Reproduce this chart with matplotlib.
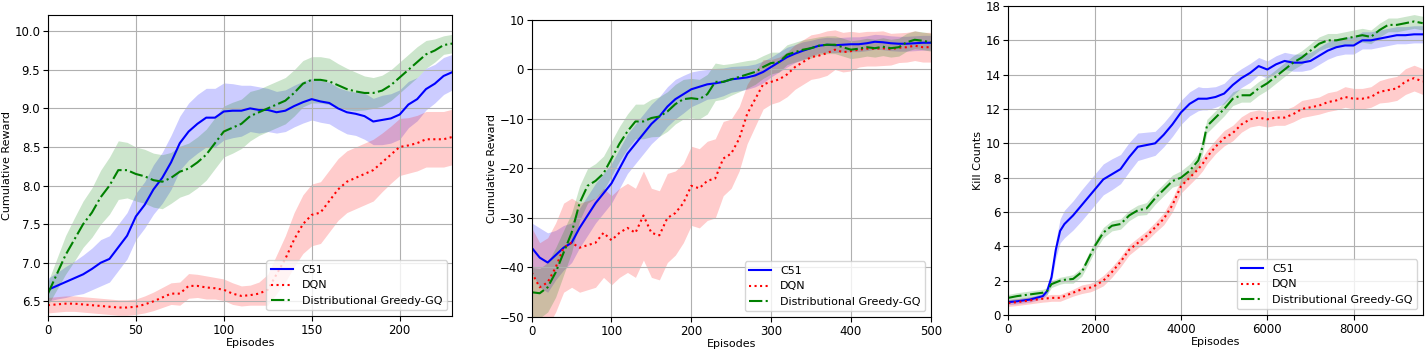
import numpy as np
import matplotlib
matplotlib.use("Agg")
import matplotlib.pyplot as plt

# ---------------- Panel 1 ----------------
p1_x = list(range(0, 231, 5))
p1_c51 = [6.65, 6.7, 6.75, 6.8, 6.85, 6.92, 7.0, 7.05, 7.2, 7.35, 7.6, 7.75, 7.95, 8.1, 8.3, 8.55,
          8.7, 8.8, 8.88, 8.88, 8.96, 8.97, 8.97, 9.0, 8.98, 8.98, 8.95, 8.97, 9.03, 9.08, 9.12,
          9.09, 9.07, 9.0, 8.95, 8.93, 8.9, 8.83, 8.85, 8.87, 8.92, 9.05, 9.12, 9.25, 9.32, 9.42, 9.47]
p1_c51_hw = [0.15, 0.17, 0.2, 0.22, 0.25, 0.27, 0.3, 0.3, 0.3, 0.3, 0.3, 0.3, 0.32, 0.33, 0.35, 0.35,
             0.37, 0.38, 0.38, 0.38, 0.37, 0.35, 0.33, 0.3, 0.3, 0.28, 0.27, 0.27, 0.27, 0.27, 0.27,
             0.27, 0.27, 0.27, 0.28, 0.28, 0.3, 0.3, 0.32, 0.32, 0.32, 0.3, 0.28, 0.27, 0.25, 0.24, 0.23]
p1_dqn = [6.45, 6.46, 6.47, 6.47, 6.46, 6.45, 6.44, 6.43, 6.42, 6.42, 6.43, 6.46, 6.5, 6.55, 6.6, 6.6,
          6.7, 6.7, 6.68, 6.67, 6.65, 6.6, 6.57, 6.58, 6.6, 6.65, 6.85, 7.05, 7.3, 7.5, 7.62,
          7.65, 7.8, 7.95, 8.05, 8.1, 8.15, 8.2, 8.3, 8.4, 8.5, 8.52, 8.55, 8.6, 8.6, 8.6, 8.63]
p1_dqn_hw = [0.1, 0.1, 0.1, 0.1, 0.1, 0.1, 0.1, 0.1, 0.1, 0.1, 0.1, 0.11, 0.12, 0.13, 0.14, 0.15,
             0.16, 0.15, 0.15, 0.14, 0.14, 0.14, 0.13, 0.13, 0.15, 0.2, 0.25, 0.3, 0.35, 0.38, 0.4,
             0.4, 0.4, 0.4, 0.4, 0.4, 0.4, 0.4, 0.38, 0.37, 0.37, 0.36, 0.36, 0.36, 0.36, 0.36, 0.36]
p1_gq = [6.6, 6.85, 7.1, 7.3, 7.5, 7.65, 7.85, 8.0, 8.2, 8.2, 8.15, 8.12, 8.07, 8.05, 8.1, 8.18,
         8.22, 8.3, 8.4, 8.55, 8.7, 8.75, 8.8, 8.9, 8.95, 9.0, 9.05, 9.1, 9.2, 9.32, 9.37,
         9.37, 9.35, 9.3, 9.25, 9.22, 9.2, 9.2, 9.23, 9.3, 9.4, 9.5, 9.6, 9.7, 9.75, 9.82, 9.84]
p1_gq_hw = [0.15, 0.2, 0.25, 0.28, 0.3, 0.32, 0.35, 0.37, 0.38, 0.36, 0.35, 0.35, 0.35, 0.35, 0.33, 0.33,
            0.33, 0.33, 0.33, 0.33, 0.33, 0.33, 0.32, 0.32, 0.3, 0.3, 0.3, 0.3, 0.3, 0.3, 0.3,
            0.3, 0.3, 0.28, 0.27, 0.25, 0.22, 0.2, 0.2, 0.2, 0.2, 0.2, 0.2, 0.18, 0.15, 0.12, 0.12]

# ---------------- Panel 2 ----------------
p2_x = list(range(0, 501, 10))
p2_c51 = [-36, -38, -39, -37.5, -36, -35, -32, -29.5, -27, -25, -23, -20, -17, -15, -13, -11,
          -9.5, -7.5, -6, -5, -4, -3.5, -3, -2.8, -2.5, -2, -1.8, -1.6, -1.2, -0.5, 0.5,
          1.5, 2.5, 3.2, 3.8, 4.3, 4.8, 5, 4.9, 5, 5.1, 5.1, 5.3, 5.6, 5.5, 5.3, 5.2, 5.2, 5.3, 5.4, 5.4]
p2_c51_hw = [5, 6, 6, 5, 4.5, 4, 4, 4, 4, 4, 4, 4, 4, 4, 4, 4,
             4, 4, 4, 3.8, 3.5, 3.3, 3, 3, 2.8, 2.6, 2.5, 2.4, 2.3, 2.2, 2,
             2, 2, 1.8, 1.8, 1.6, 1.5, 1.5, 1.5, 1.5, 1.5, 1.5, 1.5, 1.5, 1.5, 1.5, 1.5, 1.5, 1.5, 1.5, 1.5]
p2_dqn = [-41, -44, -43, -40, -36, -35, -36, -35.5, -35, -33, -34.5, -33, -32, -33, -29.5, -33,
          -33.5, -30, -29, -27, -23.5, -24, -22.5, -22, -18, -17, -14, -9, -6, -3, -2.5,
          -2, -1, 0.5, 1.5, 2.5, 2.8, 3.3, 4, 3.5, 3.7, 4, 4.2, 4.2, 4.3, 4.1, 4.4, 4.5, 4.8, 4.5, 4.5]
p2_dqn_hw = [9, 9, 9, 9, 9, 9, 9, 9, 9, 9, 9, 9, 9, 9, 9, 9,
             9, 9, 8.5, 8, 8, 8, 8, 8, 7.5, 7, 6.5, 6, 5.5, 5, 4.5,
             4.5, 4.5, 4.5, 4.5, 4.5, 4.5, 4.5, 4, 4, 4, 3.5, 3.5, 3.5, 3.5, 3.2, 3, 3, 3, 3, 3]
p2_gq = [-45, -45.2, -44, -41, -37, -33, -27, -23.5, -22.5, -21, -18, -15, -12.5, -10.5, -10.5, -9.8,
         -9.5, -8.5, -7, -6, -5.8, -6, -5, -2.5, -2.5, -2, -1.5, -1, -0.5, 0.5, 1.3,
         1.5, 3, 3.5, 4, 4.3, 4.8, 5, 5, 4.5, 4, 4.2, 4.5, 4.3, 4.6, 4.3, 4.5, 5.5, 6, 5.8, 5.5]
p2_gq_hw = [5, 5, 5, 5, 4.5, 4, 3.5, 3.5, 3.5, 3.5, 3.5, 3.5, 3.5, 3.5, 3.5, 3.8,
            4, 4, 4, 4, 4, 4, 4, 3.8, 3.5, 3.2, 3, 2.8, 2.5, 2.3, 2.2,
            2, 2, 2, 2, 2, 1.8, 1.8, 1.8, 1.8, 1.8, 1.8, 1.8, 1.8, 1.8, 1.8, 1.8, 1.8, 1.8, 1.8, 1.8]

# ---------------- Panel 3 ----------------
p3_x = [0, 200, 500, 800, 900, 1000, 1100, 1200, 1300, 1500, 1700, 1900, 2000, 2200, 2400, 2600,
        2800, 3000, 3200, 3400, 3600, 3800, 4000, 4200, 4400, 4500, 4600, 4800, 5000, 5200, 5400,
        5600, 5800, 6000, 6200, 6400, 6600, 6800, 7000, 7200, 7400, 7600, 7800, 8000, 8200, 8400,
        8600, 8800, 9000, 9200, 9400, 9600]
p3_c51 = [0.75, 0.8, 0.9, 1.1, 1.4, 2.2, 3.8, 4.9, 5.3, 5.8, 6.4, 7.0, 7.3, 7.9, 8.2, 8.5,
          9.2, 9.8, 9.9, 10.0, 10.5, 11.1, 11.8, 12.3, 12.6, 12.6, 12.6, 12.7, 12.9, 13.4, 13.8,
          14.1, 14.5, 14.3, 14.6, 14.8, 14.7, 14.7, 14.8, 15.1, 15.4, 15.6, 15.7, 15.7, 16.0, 16.0,
          16.1, 16.2, 16.3, 16.3, 16.35, 16.35]
p3_c51_hw = [0.15, 0.15, 0.15, 0.15, 0.2, 0.3, 0.5, 0.7, 0.8, 0.85, 0.9, 0.9, 0.9, 0.9, 0.9, 0.85,
             0.85, 0.8, 0.75, 0.7, 0.7, 0.7, 0.7, 0.7, 0.7, 0.65, 0.65, 0.6, 0.6, 0.6, 0.55,
             0.55, 0.5, 0.5, 0.5, 0.5, 0.5, 0.5, 0.5, 0.5, 0.5, 0.5, 0.5, 0.5, 0.5, 0.5,
             0.5, 0.5, 0.5, 0.5, 0.5, 0.5]
p3_dqn = [0.7, 0.75, 0.85, 0.95, 0.97, 1.0, 1.0, 1.0, 1.1, 1.3, 1.5, 1.6, 1.7, 2.0, 2.5, 3.1,
          3.8, 4.2, 4.6, 5.1, 5.6, 6.4, 7.5, 8.0, 8.5, 8.8, 9.2, 9.8, 10.3, 10.6, 11.1,
          11.4, 11.5, 11.4, 11.5, 11.5, 11.7, 12.0, 12.1, 12.2, 12.4, 12.5, 12.7, 12.6, 12.6, 12.7,
          13.0, 13.1, 13.2, 13.6, 13.8, 13.6]
p3_dqn_hw = [0.2, 0.2, 0.2, 0.2, 0.2, 0.2, 0.2, 0.2, 0.2, 0.2, 0.25, 0.25, 0.25, 0.3, 0.3, 0.3,
             0.3, 0.3, 0.3, 0.3, 0.35, 0.4, 0.4, 0.4, 0.4, 0.4, 0.4, 0.4, 0.45, 0.45, 0.45,
             0.45, 0.45, 0.45, 0.45, 0.45, 0.45, 0.5, 0.5, 0.5, 0.55, 0.55, 0.6, 0.6, 0.6, 0.6,
             0.65, 0.7, 0.7, 0.75, 0.75, 0.75]
p3_gq = [1.0, 1.1, 1.2, 1.3, 1.4, 1.8, 1.9, 2.0, 2.05, 2.1, 2.5, 3.5, 4.0, 4.8, 5.2, 5.3,
         5.8, 6.1, 6.2, 6.8, 7.3, 7.8, 8.0, 8.4, 9.0, 9.8, 11.0, 11.5, 12.0, 12.6, 12.8,
         12.8, 13.2, 13.5, 13.9, 14.3, 14.7, 15.0, 15.4, 15.8, 16.0, 16.0, 16.1, 16.2, 16.3, 16.2,
         16.6, 16.9, 16.9, 17.0, 17.1, 17.0]
p3_gq_hw = [0.2, 0.2, 0.2, 0.2, 0.2, 0.2, 0.2, 0.2, 0.2, 0.25, 0.25, 0.3, 0.3, 0.3, 0.3, 0.3,
            0.3, 0.3, 0.35, 0.35, 0.35, 0.35, 0.4, 0.4, 0.4, 0.4, 0.4, 0.4, 0.4, 0.4, 0.4,
            0.4, 0.4, 0.4, 0.4, 0.4, 0.4, 0.4, 0.4, 0.4, 0.4, 0.4, 0.4, 0.4, 0.4, 0.4,
            0.4, 0.4, 0.4, 0.4, 0.4, 0.4]

labels = ["C51", "DQN", "Distributional Greedy-GQ"]

plt.rcParams['font.family'] = ['DejaVu Sans']
plt.rcParams['font.size'] = 8

fig = plt.figure(figsize=(14.27, 3.53), dpi=100)

panels = [
    dict(rect=[0.0336, 0.1048, 0.2834, 0.8527], x=p1_x,
         series=[(p1_c51, p1_c51_hw), (p1_dqn, p1_dqn_hw), (p1_gq, p1_gq_hw)],
         xlim=(0, 230), ylim=(6.31, 10.21), ylabel="Cumulative Reward",
         yticks=[6.5, 7.0, 7.5, 8.0, 8.5, 9.0, 9.5, 10.0], yfmt="{:.1f}",
         xticks=[0, 50, 100, 150, 200]),
    dict(rect=[0.3726, 0.102, 0.2796, 0.8414], x=p2_x,
         series=[(p2_c51, p2_c51_hw), (p2_dqn, p2_dqn_hw), (p2_gq, p2_gq_hw)],
         xlim=(0, 500), ylim=(-50, 10), ylabel="Cumulative Reward",
         yticks=[-50, -40, -30, -20, -10, 0, 10], yfmt=None,
         xticks=[0, 100, 200, 300, 400, 500]),
    dict(rect=[0.7066, 0.1076, 0.2904, 0.8754], x=p3_x,
         series=[(p3_c51, p3_c51_hw), (p3_dqn, p3_dqn_hw), (p3_gq, p3_gq_hw)],
         xlim=(0, 9600), ylim=(0, 18), ylabel="Kill Counts",
         yticks=list(range(0, 19, 2)), yfmt=None,
         xticks=[0, 2000, 4000, 6000, 8000]),
]

colors = ["#0000ff", "#ff0000", "#008000"]
styles = ["-", ":", "-."]

for p in panels:
    ax = fig.add_axes(p["rect"])
    x = np.array(p["x"])
    for (m, hw), c, ls, lab in zip(p["series"], colors, styles, labels):
        m = np.array(m, dtype=float)
        hw = np.array(hw, dtype=float)
        ax.fill_between(x, m - hw, m + hw, color=c, alpha=0.2, linewidth=0)
        ax.plot(x, m, color=c, linestyle=ls, linewidth=1.5, label=lab)
    ax.set_xlim(*p["xlim"])
    ax.set_ylim(*p["ylim"])
    ax.set_xticks(p["xticks"])
    ax.set_yticks(p["yticks"])
    if p["yfmt"]:
        ax.set_yticklabels([p["yfmt"].format(v) for v in p["yticks"]])
    ax.grid(True, color="#b0b0b0", linewidth=0.8)
    ax.set_xlabel("Episodes", labelpad=1)
    ax.set_ylabel(p["ylabel"], labelpad=2)
    ax.tick_params(labelsize=8.5, length=3.5, pad=2)
    ax.legend(loc="lower right", fontsize=8, handlelength=2.0)

fig.savefig("out.png", dpi=100)
